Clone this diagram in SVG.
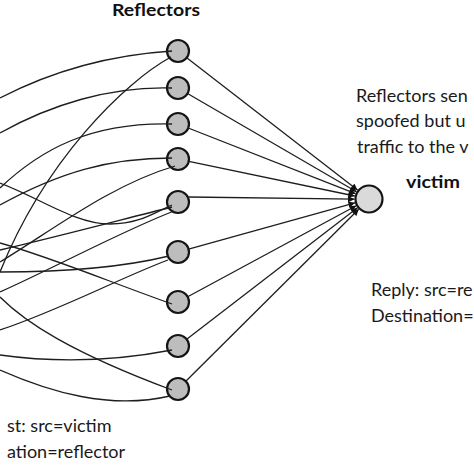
<svg xmlns="http://www.w3.org/2000/svg" width="474" height="474" viewBox="0 0 474 474">
<defs>
<style>
.bg{fill:#ffffff}
.refl{fill:#bdbdbd;stroke:#141414;stroke-width:2.2}
.vic{fill:#dadada;stroke:#141414;stroke-width:2.2}
.in{fill:none;stroke:#1e1e1e;stroke-width:1.3}
.out{fill:none;stroke:#1e1e1e;stroke-width:1.3;marker-end:url(#ah)}
.t{font-family:Lato,"Liberation Sans",sans-serif;font-size:18px;fill:#1a1a1a}
.b{font-family:Lato,"Liberation Sans",sans-serif;font-size:17px;font-weight:bold;fill:#111}
</style>
<marker id="ah" viewBox="0 0 10 10" refX="10" refY="5" markerWidth="6" markerHeight="5" orient="auto" markerUnits="strokeWidth">
<path d="M0,0 L10,5 L0,10 z" fill="#111"/>
</marker>
</defs>
<rect class="bg" x="0" y="0" width="474" height="474"/>
<g id="reflectors-title"><text class="b" x="112" y="16" textLength="88" lengthAdjust="spacingAndGlyphs">Reflectors</text></g>
<g id="reflector-1"><circle class="refl" cx="178" cy="51" r="11"/></g>
<g id="reflector-2"><circle class="refl" cx="178" cy="88" r="11"/></g>
<g id="reflector-3"><circle class="refl" cx="178" cy="124" r="11"/></g>
<g id="reflector-4"><circle class="refl" cx="178" cy="159" r="11"/></g>
<g id="reflector-5"><circle class="refl" cx="178" cy="202" r="11"/></g>
<g id="reflector-6"><circle class="refl" cx="178" cy="252" r="11"/></g>
<g id="reflector-7"><circle class="refl" cx="178" cy="302" r="11"/></g>
<g id="reflector-8"><circle class="refl" cx="178" cy="346" r="11"/></g>
<g id="reflector-9"><circle class="refl" cx="178" cy="389" r="11"/></g>
<g id="victim"><circle class="vic" cx="369" cy="199" r="13.5"/><text class="b" x="406" y="188" textLength="54" lengthAdjust="spacingAndGlyphs">victim</text></g>
<g id="connectors">
<path class="in" d="M0,98 C50,72 110,55 172,51"/>
<path class="in" d="M171,57 C125,82 45,160 0,272"/>
<path class="in" d="M0,133 C50,105 110,86 172,88"/>
<path class="in" d="M0,188 C40,150 90,122 172,124"/>
<path class="in" d="M0,205 C60,172 110,158 172,158"/>
<path class="in" d="M0,262 C50,232 110,185 175,166"/>
<path class="in" d="M0,183 C40,198 75,224 110,224 C140,224 155,212 172,205"/>
<path class="in" d="M0,250 C60,236 120,220 172,207"/>
<path class="in" d="M0,292 C60,265 120,232 174,211"/>
<path class="in" d="M0,243 C50,257 110,282 172,304"/>
<path class="in" d="M0,272 C60,272 120,268 169,256"/>
<path class="in" d="M0,330 C60,310 120,278 168,260"/>
<path class="in" d="M0,355 C50,362 110,362 172,350"/>
<path class="in" d="M0,297 C25,322 70,352 172,390"/>
<path class="in" d="M0,370 C50,392 110,410 170,396"/>
<path class="out" d="M186.7,57.7 L357.5,190.1"/>
<path class="out" d="M187.5,93.5 L356.5,191.7"/>
<path class="out" d="M188.2,128 L355.5,193.7"/>
<path class="out" d="M188.8,161.3 L354.8,196"/>
<path class="out" d="M188.5,197 L354.5,199.2"/>
<path class="out" d="M188.6,249.1 L355,202.8"/>
<path class="out" d="M187.7,296.8 L356.2,205.8"/>
<path class="out" d="M186.7,339.3 L357.5,207.8"/>
<path class="out" d="M185.8,381.2 L358.7,209.2"/>
</g>
<g id="labels">
<text class="t" x="356" y="102">Reflectors sen</text>
<text class="t" x="356" y="127">spoofed but u</text>
<text class="t" x="357" y="153">traffic to the v</text>
<text class="t" x="371" y="296">Reply: src=re</text>
<text class="t" x="371" y="322">Destination=</text>
<text class="t" x="7" y="432">st: src=victim</text>
<text class="t" x="7" y="458">ation=reflector</text>
</g>
</svg>
